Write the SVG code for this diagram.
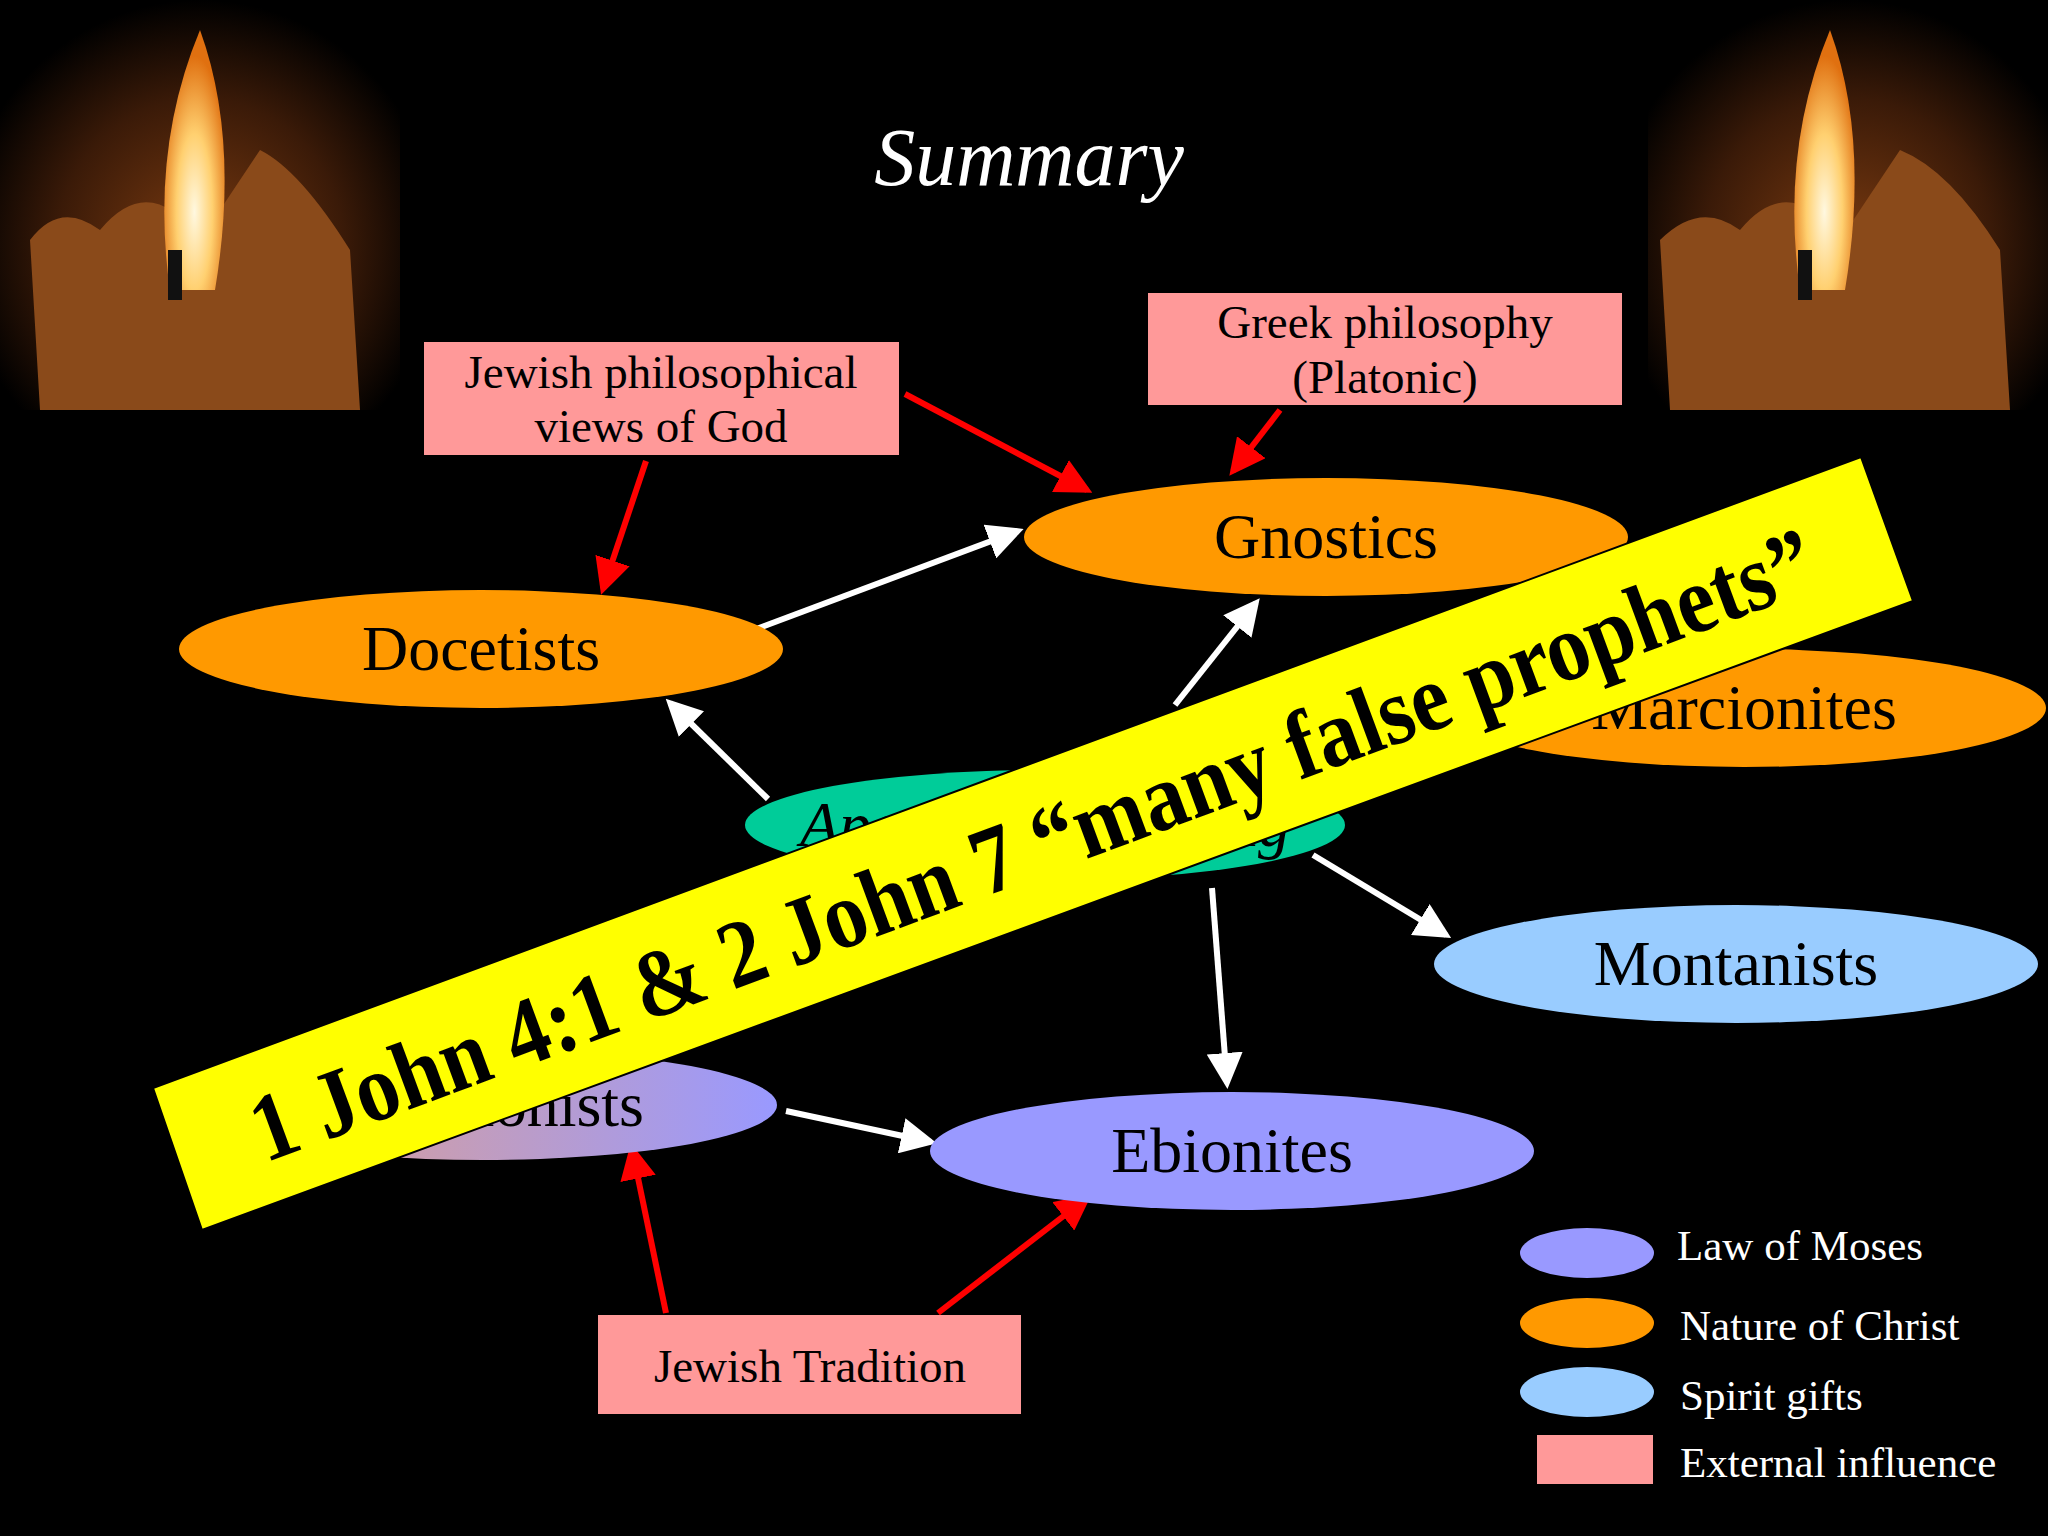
<svg xmlns="http://www.w3.org/2000/svg" width="2048" height="1536" viewBox="0 0 2048 1536">
<style>
.box{fill:#FF9999}
.bt{font-family:"Liberation Serif",serif;font-size:47px;fill:#000;text-anchor:middle}
.et{font-family:"Liberation Serif",serif;font-size:64px;fill:#000;text-anchor:middle}
.lt{font-family:"Liberation Serif",serif;font-size:43px;fill:#fff}
.w{stroke:#fff;stroke-width:6;fill:none;marker-end:url(#wa)}
.r{stroke:#f00;stroke-width:6;fill:none;marker-end:url(#ra)}
</style>
<defs>
<marker id="wa" markerWidth="6" markerHeight="6" refX="5" refY="3" orient="auto"><path d="M0,0L6,3L0,6z" fill="#fff"/></marker>
<marker id="ra" markerWidth="6" markerHeight="6" refX="5" refY="3" orient="auto"><path d="M0,0L6,3L0,6z" fill="#f00"/></marker>
<linearGradient id="g1"><stop offset="0" stop-color="#E8A080"/><stop offset="1" stop-color="#9999FF"/></linearGradient>
<radialGradient id="glow" cx="0.5" cy="0.6" r="0.6"><stop offset="0" stop-color="#7a3a10"/><stop offset="0.6" stop-color="#3a1a08"/><stop offset="1" stop-color="#000"/></radialGradient>
<radialGradient id="flame" cx="0.5" cy="0.7" r="0.6"><stop offset="0" stop-color="#fff8e0"/><stop offset="0.5" stop-color="#ffd070"/><stop offset="1" stop-color="#e07010"/></radialGradient>
</defs>
<rect width="2048" height="1536" fill="#000"/>
<g id="candle-left">
<rect x="0" y="0" width="400" height="410" fill="url(#glow)"/>
<path d="M30,240 Q60,200 100,230 Q150,170 200,240 Q240,180 260,150 Q300,170 350,250 L360,410 L40,410 Z" fill="#8a4a1a"/>
<path d="M170,290 Q150,150 200,30 Q240,140 215,290 Z" fill="url(#flame)"/>
<rect x="168" y="250" width="14" height="50" fill="#111"/>
</g>
<g id="candle-right">
<rect x="1648" y="0" width="400" height="410" fill="url(#glow)"/>
<path d="M1660,240 Q1700,200 1740,230 Q1790,170 1840,240 Q1880,180 1900,150 Q1950,170 2000,250 L2010,410 L1670,410 Z" fill="#8a4a1a"/>
<path d="M1800,290 Q1780,150 1830,30 Q1870,140 1845,290 Z" fill="url(#flame)"/>
<rect x="1798" y="250" width="14" height="50" fill="#111"/>
</g>
<text x="1029" y="185" font-family="Liberation Serif,serif" font-style="italic" font-size="82" fill="#fff" text-anchor="middle">Summary</text>
<g id="connectors">
<line class="w" x1="751" y1="631" x2="1018" y2="531"/>
<line class="w" x1="768" y1="799" x2="670" y2="703"/>
<line class="w" x1="1175" y1="705" x2="1256" y2="603"/>
<line class="w" x1="1313" y1="855" x2="1446" y2="935"/>
<line class="w" x1="1212" y1="888" x2="1227" y2="1083"/>
<line class="w" x1="786" y1="1111" x2="931" y2="1142"/>
<line class="r" x1="905" y1="394" x2="1087" y2="490"/>
<line class="r" x1="646" y1="461" x2="603" y2="589"/>
<line class="r" x1="1280" y1="410" x2="1233" y2="471"/>
<line class="r" x1="666" y1="1313" x2="632" y2="1149"/>
<line class="r" x1="938" y1="1313" x2="1087" y2="1198"/>
</g>
<g id="jpv"><rect class="box" x="424" y="342" width="475" height="113"/><text class="bt" x="661" y="388">Jewish philosophical</text><text class="bt" x="661" y="442">views of God</text></g>
<g id="greek"><rect class="box" x="1148" y="293" width="474" height="112"/><text class="bt" x="1385" y="338">Greek philosophy</text><text class="bt" x="1385" y="393">(Platonic)</text></g>
<g id="jt"><rect class="box" x="598" y="1315" width="423" height="99"/><text class="bt" x="810" y="1382">Jewish Tradition</text></g>
<g id="gnostics"><ellipse cx="1326" cy="537" rx="302" ry="59" fill="#FF9900"/><text class="et" x="1326" y="558">Gnostics</text></g>
<g id="docetists"><ellipse cx="481" cy="649" rx="302" ry="59" fill="#FF9900"/><text class="et" x="481" y="670">Docetists</text></g>
<g id="marcionites"><ellipse cx="1744" cy="708" rx="302" ry="59" fill="#FF9900"/><text class="et" x="1744" y="729">Marcionites</text></g>
<g id="apostolic"><ellipse cx="1045" cy="825" rx="300" ry="55" fill="#00CC99"/><text class="et" x="1045" y="846" style="font-style:italic">Apostolic Teaching</text></g>
<g id="montanists"><ellipse cx="1736" cy="964" rx="302" ry="59" fill="#99CCFF"/><text class="et" x="1736" y="985">Montanists</text></g>
<g id="ebionites"><ellipse cx="1232" cy="1151" rx="302" ry="59" fill="#9999FF"/><text class="et" x="1232" y="1172">Ebionites</text></g>
<g id="zionists"><ellipse cx="483" cy="1105" rx="294" ry="55" fill="url(#g1)"/><text class="et" x="644" y="1126" style="text-anchor:end">Zionists</text></g>
<g id="legend">
<ellipse cx="1587" cy="1253" rx="67" ry="25" fill="#9999FF"/><text class="lt" x="1677" y="1260">Law of Moses</text>
<ellipse cx="1587" cy="1323" rx="67" ry="25" fill="#FF9900"/><text class="lt" x="1680" y="1340">Nature of Christ</text>
<ellipse cx="1587" cy="1392" rx="67" ry="25" fill="#99CCFF"/><text class="lt" x="1680" y="1410">Spirit gifts</text>
<rect x="1537" y="1435" width="116" height="49" fill="#FF9999"/><text class="lt" x="1680" y="1477">External influence</text>
</g>
<g id="banner">
<polygon points="153,1088 1861,457 1913,601 202,1230" fill="#FFFF00" stroke="#000" stroke-width="2"/>
<text x="0" y="0" transform="translate(1032,844) rotate(-20.3)" dy="33" font-family="Liberation Serif,serif" font-weight="bold" font-size="96" fill="#000" text-anchor="middle" textLength="1660" lengthAdjust="spacingAndGlyphs">1 John 4:1 &amp; 2 John 7 “many false prophets”</text>
</g>
</svg>
